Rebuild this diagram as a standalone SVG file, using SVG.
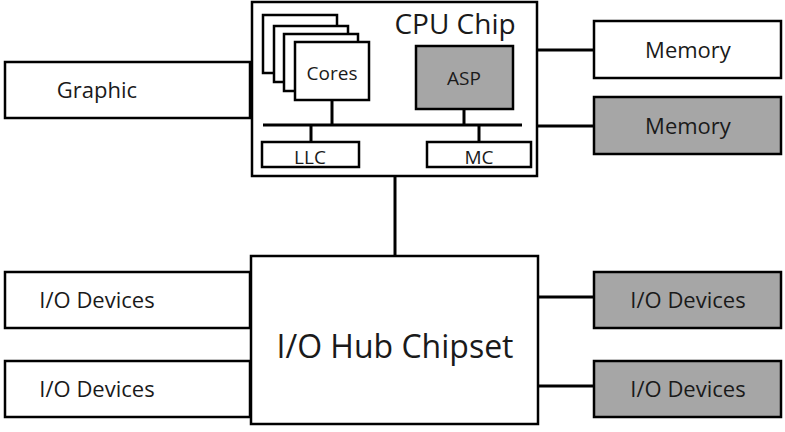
<svg xmlns="http://www.w3.org/2000/svg" width="785" height="432" viewBox="0 0 785 432">
<style>
rect{stroke:#000;stroke-width:2.5;fill:#fff}
.g{fill:#a6a6a6}
line{stroke:#000;stroke-width:3}
text{font-family:"Open Sans","Liberation Sans",sans-serif;fill:#1a1a1a;text-anchor:middle}
</style>
<rect width="785" height="432" style="fill:#fff;stroke:none"/>
<g id="connectors">
<line x1="250" y1="90" x2="252" y2="90"/>
<line x1="537" y1="50" x2="594" y2="50"/>
<line x1="537" y1="126" x2="594" y2="126"/>
<line x1="395" y1="176" x2="395" y2="256"/>
<line x1="250" y1="297" x2="251" y2="297"/>
<line x1="538" y1="297" x2="594" y2="297"/>
<line x1="538" y1="386" x2="594" y2="386"/>
</g>
<g id="cpu">
<rect x="252" y="2" width="285" height="174"/>
<text x="455" y="34" font-size="28">CPU Chip</text>
<rect x="263" y="15" width="74" height="58"/>
<rect x="274" y="26" width="74" height="56"/>
<rect x="284" y="34" width="74" height="57"/>
<rect x="295" y="42" width="74" height="58"/>
<text x="332" y="80" font-size="19">Cores</text>
<rect class="g" x="416" y="46" width="97" height="63"/>
<text x="464" y="85" font-size="19">ASP</text>
<line x1="263" y1="125" x2="522" y2="125"/>
<line x1="332" y1="100" x2="332" y2="125"/>
<line x1="464" y1="109" x2="464" y2="125"/>
<line x1="311" y1="125" x2="311" y2="142"/>
<line x1="479" y1="125" x2="479" y2="142"/>
<rect x="262" y="142" width="97" height="25"/>
<text x="310" y="164" font-size="19">LLC</text>
<rect x="427" y="142" width="104" height="25"/>
<text x="479" y="164" font-size="19">MC</text>
</g>
<g id="graphic"><rect x="5" y="62" width="245" height="56"/><text x="97" y="98" font-size="22">Graphic</text></g>
<g id="memory1"><rect x="594" y="21" width="187" height="57"/><text x="688" y="58" font-size="22">Memory</text></g>
<g id="memory2"><rect class="g" x="594" y="97" width="187" height="57"/><text x="688" y="134" font-size="22">Memory</text></g>
<g id="hub"><rect x="251" y="256" width="287" height="168"/><text x="395" y="358" font-size="32">I/O Hub Chipset</text></g>
<g id="io1"><rect x="5" y="272" width="245" height="56"/><text x="97" y="308" font-size="22">I/O Devices</text></g>
<g id="io2"><rect x="5" y="361" width="245" height="56"/><text x="97" y="397" font-size="22">I/O Devices</text></g>
<g id="io3"><rect class="g" x="594" y="272" width="187" height="56"/><text x="688" y="308" font-size="22">I/O Devices</text></g>
<g id="io4"><rect class="g" x="594" y="361" width="187" height="56"/><text x="688" y="397" font-size="22">I/O Devices</text></g>
</svg>
